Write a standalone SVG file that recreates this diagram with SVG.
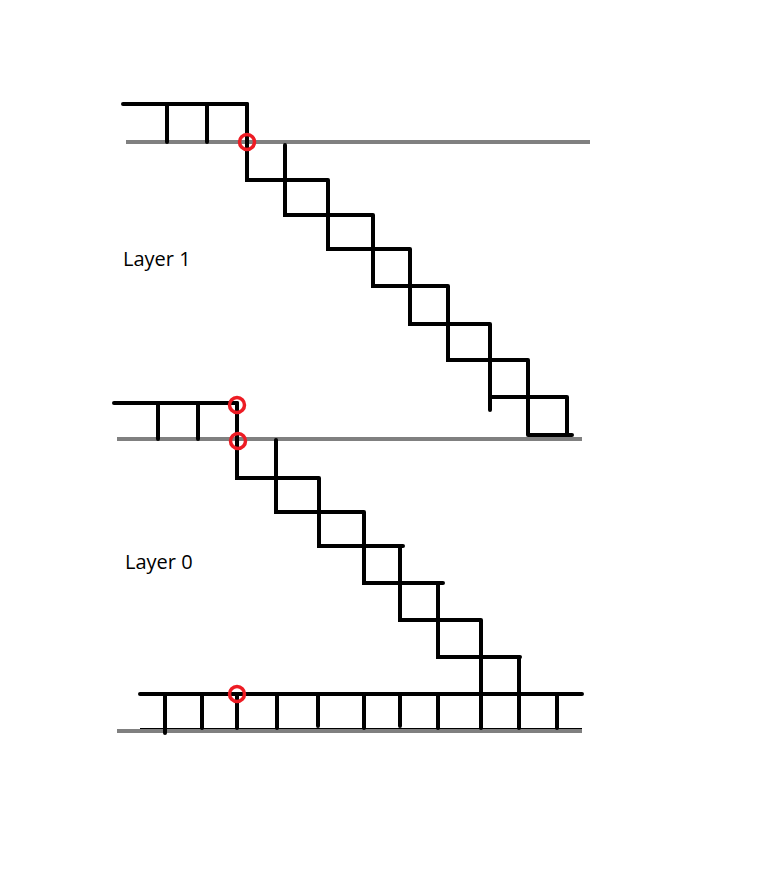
<svg xmlns="http://www.w3.org/2000/svg" width="758" height="872" viewBox="0 0 758 872">
<style>
.floor{stroke:#808080;stroke-width:4;fill:none}
.bk{stroke:#000;stroke-width:4;fill:none;stroke-linecap:round}
.mk{stroke:#ed1c24;stroke-width:3.5;fill:none}
.lbl{font-family:"Open Sans","Liberation Sans",sans-serif;font-size:20px;fill:#000}
</style>
<rect width="758" height="872" fill="#fff"/>
<g id="floors">
<line class="floor" x1="126" y1="142" x2="590" y2="142"/>
<line class="floor" x1="117" y1="439" x2="582" y2="439"/>
<line class="floor" x1="117" y1="731" x2="582" y2="731"/>
<line x1="140" y1="728.5" x2="582" y2="728.5" stroke="#000" stroke-width="1"/>
</g>
<g id="layer1-landing">
<path class="bk" d="M123 104H247M167 104V142M207 104V142"/>
</g>
<g id="layer1-stairs">
<path class="bk" d="M247 104V180H328M285 145V215H373M328 180V249H410M373 215V286H448M410 249V324H490M448 286V360H528M490 324V410M490 397H567M528 360V435M567 397V435M528 435H572"/>
</g>
<g id="layer0-landing">
<path class="bk" d="M114 403H237M158 403V439M198 403V439"/>
</g>
<g id="layer0-stairs">
<path class="bk" d="M237 403V478H319M276 440V512H364M319 478V546H403M364 512V583H443M400 546V620H481M438 583V657H520M481 620V728M519 657V728"/>
</g>
<g id="ground-rail">
<path class="bk" d="M140 694H582M165 694V733M202 694V728M237 694V728M277 694V728M318 694V726M364 694V728M400 694V726M438 694V728M557 694V728"/>
</g>
<g id="markers">
<circle class="mk" cx="247" cy="142" r="7.5"/>
<circle class="mk" cx="237" cy="405" r="7.5"/>
<circle class="mk" cx="238" cy="441" r="7.5"/>
<circle class="mk" cx="237" cy="694" r="7.5"/>
</g>
<g id="labels">
<text class="lbl" x="123" y="266">Layer 1</text>
<text class="lbl" x="125" y="569">Layer 0</text>
</g>
</svg>
